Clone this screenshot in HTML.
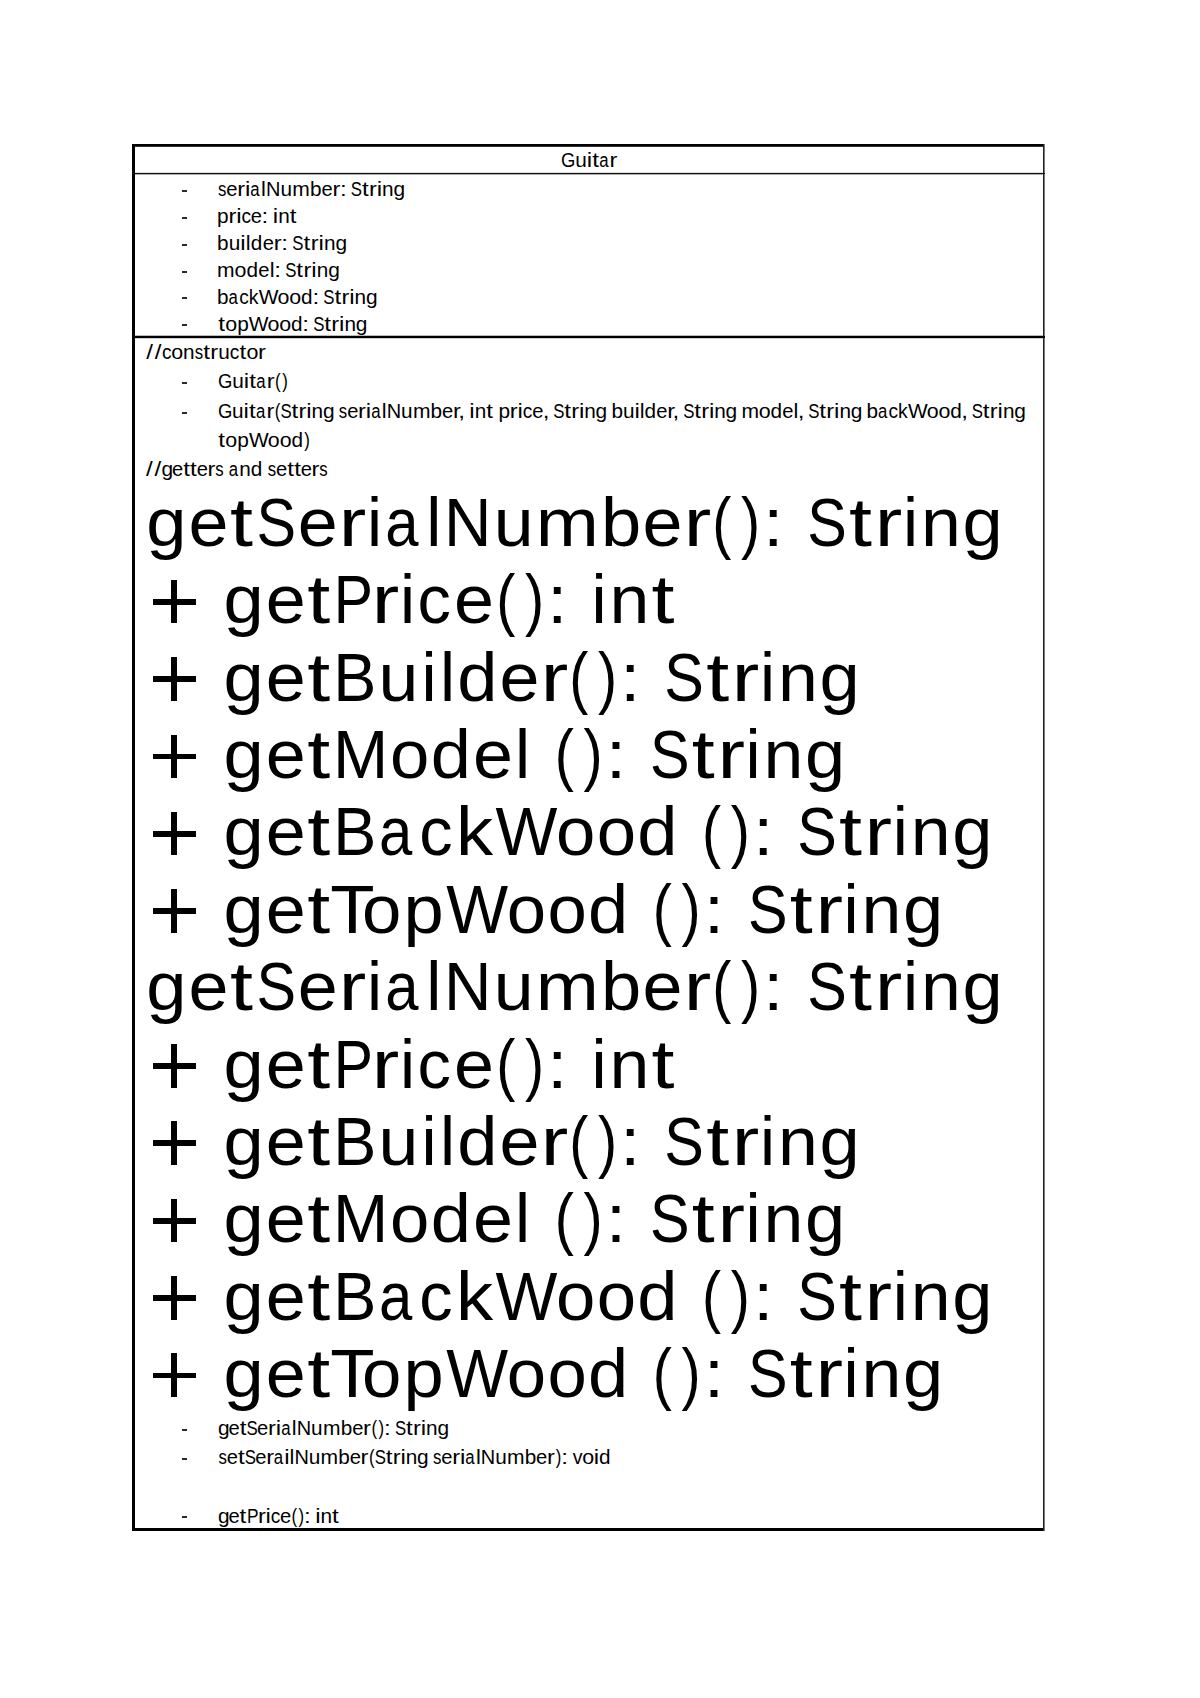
<!DOCTYPE html>
<html><head><meta charset="utf-8"><title>Guitar</title><style>
html,body{margin:0;padding:0;background:#fff;}
body{width:1200px;height:1698px;position:relative;overflow:hidden;font-family:"Liberation Sans",sans-serif;color:#000;}
.b,.r,.d{position:absolute;background:#000;}
.d{left:181.9px;width:5.6px;height:2px;background:#2a2a2a;}
svg.s{position:absolute;left:0;top:0;}
svg.s text{font-family:"Liberation Sans",sans-serif;fill:#000;font-kerning:none;white-space:pre;}
</style></head><body>
<div class="b" style="left:132px;top:144px;width:913px;height:2px"></div><div class="b" style="left:132px;top:146px;width:911px;height:1px;background:#333"></div>
<div class="b" style="left:132px;top:1528px;width:913px;height:3px"></div>
<div class="b" style="left:132px;top:144px;width:3px;height:1387px"></div>
<div class="b" style="left:1043px;top:144px;width:1px;height:1387px;background:#222"></div>
<div class="b" style="left:1044px;top:144px;width:1px;height:1387px;background:#777"></div>
<div class="b" style="left:135px;top:172px;width:908px;height:1px;background:#ddd"></div><div class="b" style="left:132px;top:173px;width:913px;height:1px;background:#111"></div><div class="b" style="left:135px;top:174px;width:908px;height:1px;background:#aaa"></div>
<div class="b" style="left:135px;top:335px;width:908px;height:1px;background:#bbb"></div><div class="b" style="left:132px;top:336px;width:913px;height:2px"></div><div class="b" style="left:135px;top:338px;width:908px;height:1px;background:#ccc"></div>

<svg class="s" width="1200" height="1698" viewBox="0 0 1200 1698"><text y="167.00" font-size="20.13"><tspan x="561.07" textLength="14.36" lengthAdjust="spacingAndGlyphs">G</tspan><tspan x="575.16" textLength="11.55" lengthAdjust="spacingAndGlyphs">u</tspan><tspan x="586.67" textLength="5.37" lengthAdjust="spacingAndGlyphs">i</tspan><tspan x="592.17" textLength="6.71" lengthAdjust="spacingAndGlyphs">t</tspan><tspan x="599.15" textLength="9.33" lengthAdjust="spacingAndGlyphs">a</tspan><tspan x="609.55" textLength="7.87" lengthAdjust="spacingAndGlyphs">r</tspan></text><text y="195.89" font-size="20.13"><tspan x="217.88" textLength="8.39" lengthAdjust="spacingAndGlyphs">s</tspan><tspan x="226.30" textLength="11.21" lengthAdjust="spacingAndGlyphs">e</tspan><tspan x="237.27" textLength="7.87" lengthAdjust="spacingAndGlyphs">r</tspan><tspan x="245.04" textLength="5.37" lengthAdjust="spacingAndGlyphs">i</tspan><tspan x="250.37" textLength="9.33" lengthAdjust="spacingAndGlyphs">a</tspan><tspan x="261.07" textLength="4.84" lengthAdjust="spacingAndGlyphs">l</tspan><tspan x="266.02" textLength="14.42" lengthAdjust="spacingAndGlyphs">N</tspan><tspan x="280.43" textLength="11.55" lengthAdjust="spacingAndGlyphs">u</tspan><tspan x="292.31" textLength="17.56" lengthAdjust="spacingAndGlyphs">m</tspan><tspan x="310.12" textLength="11.54" lengthAdjust="spacingAndGlyphs">b</tspan><tspan x="321.55" textLength="11.21" lengthAdjust="spacingAndGlyphs">e</tspan><tspan x="332.52" textLength="7.87" lengthAdjust="spacingAndGlyphs">r</tspan><tspan x="340.00" textLength="6.71" lengthAdjust="spacingAndGlyphs">:</tspan> <tspan x="350.84" textLength="11.19" lengthAdjust="spacingAndGlyphs">S</tspan><tspan x="361.91" textLength="6.71" lengthAdjust="spacingAndGlyphs">t</tspan><tspan x="368.95" textLength="7.87" lengthAdjust="spacingAndGlyphs">r</tspan><tspan x="376.72" textLength="5.37" lengthAdjust="spacingAndGlyphs">i</tspan><tspan x="382.11" textLength="11.55" lengthAdjust="spacingAndGlyphs">n</tspan><tspan x="393.48" textLength="11.62" lengthAdjust="spacingAndGlyphs">g</tspan></text><text y="222.81" font-size="20.13"><tspan x="217.06" textLength="11.58" lengthAdjust="spacingAndGlyphs">p</tspan><tspan x="228.42" textLength="7.87" lengthAdjust="spacingAndGlyphs">r</tspan><tspan x="236.21" textLength="5.37" lengthAdjust="spacingAndGlyphs">i</tspan><tspan x="241.40" textLength="9.55" lengthAdjust="spacingAndGlyphs">c</tspan><tspan x="250.86" textLength="11.21" lengthAdjust="spacingAndGlyphs">e</tspan><tspan x="261.56" textLength="6.71" lengthAdjust="spacingAndGlyphs">:</tspan> <tspan x="272.85" textLength="5.37" lengthAdjust="spacingAndGlyphs">i</tspan><tspan x="278.25" textLength="11.55" lengthAdjust="spacingAndGlyphs">n</tspan><tspan x="289.89" textLength="6.71" lengthAdjust="spacingAndGlyphs">t</tspan></text><text y="249.73" font-size="20.13"><tspan x="217.04" textLength="11.54" lengthAdjust="spacingAndGlyphs">b</tspan><tspan x="228.66" textLength="11.55" lengthAdjust="spacingAndGlyphs">u</tspan><tspan x="240.36" textLength="5.37" lengthAdjust="spacingAndGlyphs">i</tspan><tspan x="245.80" textLength="4.84" lengthAdjust="spacingAndGlyphs">l</tspan><tspan x="250.78" textLength="11.54" lengthAdjust="spacingAndGlyphs">d</tspan><tspan x="262.66" textLength="11.21" lengthAdjust="spacingAndGlyphs">e</tspan><tspan x="273.77" textLength="7.87" lengthAdjust="spacingAndGlyphs">r</tspan><tspan x="281.34" textLength="6.71" lengthAdjust="spacingAndGlyphs">:</tspan> <tspan x="292.33" textLength="11.19" lengthAdjust="spacingAndGlyphs">S</tspan><tspan x="303.53" textLength="6.71" lengthAdjust="spacingAndGlyphs">t</tspan><tspan x="310.67" textLength="7.87" lengthAdjust="spacingAndGlyphs">r</tspan><tspan x="318.54" textLength="5.37" lengthAdjust="spacingAndGlyphs">i</tspan><tspan x="323.99" textLength="11.55" lengthAdjust="spacingAndGlyphs">n</tspan><tspan x="335.50" textLength="11.62" lengthAdjust="spacingAndGlyphs">g</tspan></text><text y="276.66" font-size="20.13"><tspan x="216.99" textLength="17.56" lengthAdjust="spacingAndGlyphs">m</tspan><tspan x="234.64" textLength="11.91" lengthAdjust="spacingAndGlyphs">o</tspan><tspan x="246.50" textLength="11.54" lengthAdjust="spacingAndGlyphs">d</tspan><tspan x="258.33" textLength="11.21" lengthAdjust="spacingAndGlyphs">e</tspan><tspan x="269.68" textLength="4.84" lengthAdjust="spacingAndGlyphs">l</tspan><tspan x="274.28" textLength="6.71" lengthAdjust="spacingAndGlyphs">:</tspan> <tspan x="285.22" textLength="11.19" lengthAdjust="spacingAndGlyphs">S</tspan><tspan x="296.38" textLength="6.71" lengthAdjust="spacingAndGlyphs">t</tspan><tspan x="303.50" textLength="7.87" lengthAdjust="spacingAndGlyphs">r</tspan><tspan x="311.32" textLength="5.37" lengthAdjust="spacingAndGlyphs">i</tspan><tspan x="316.76" textLength="11.55" lengthAdjust="spacingAndGlyphs">n</tspan><tspan x="328.24" textLength="11.62" lengthAdjust="spacingAndGlyphs">g</tspan></text><text y="303.58" font-size="20.13"><tspan x="217.06" textLength="11.54" lengthAdjust="spacingAndGlyphs">b</tspan><tspan x="228.62" textLength="9.33" lengthAdjust="spacingAndGlyphs">a</tspan><tspan x="239.16" textLength="9.55" lengthAdjust="spacingAndGlyphs">c</tspan><tspan x="248.71" textLength="9.74" lengthAdjust="spacingAndGlyphs">k</tspan><tspan x="258.81" textLength="19.71" lengthAdjust="spacingAndGlyphs">W</tspan><tspan x="277.58" textLength="11.91" lengthAdjust="spacingAndGlyphs">o</tspan><tspan x="289.33" textLength="11.91" lengthAdjust="spacingAndGlyphs">o</tspan><tspan x="301.11" textLength="11.54" lengthAdjust="spacingAndGlyphs">d</tspan><tspan x="312.46" textLength="6.71" lengthAdjust="spacingAndGlyphs">:</tspan> <tspan x="323.32" textLength="11.19" lengthAdjust="spacingAndGlyphs">S</tspan><tspan x="334.40" textLength="6.71" lengthAdjust="spacingAndGlyphs">t</tspan><tspan x="341.45" textLength="7.87" lengthAdjust="spacingAndGlyphs">r</tspan><tspan x="349.23" textLength="5.37" lengthAdjust="spacingAndGlyphs">i</tspan><tspan x="354.63" textLength="11.55" lengthAdjust="spacingAndGlyphs">n</tspan><tspan x="366.02" textLength="11.62" lengthAdjust="spacingAndGlyphs">g</tspan></text><text y="330.50" font-size="20.13"><tspan x="218.30" textLength="6.71" lengthAdjust="spacingAndGlyphs">t</tspan><tspan x="225.18" textLength="11.91" lengthAdjust="spacingAndGlyphs">o</tspan><tspan x="237.19" textLength="11.58" lengthAdjust="spacingAndGlyphs">p</tspan><tspan x="248.74" textLength="19.71" lengthAdjust="spacingAndGlyphs">W</tspan><tspan x="267.49" textLength="11.91" lengthAdjust="spacingAndGlyphs">o</tspan><tspan x="279.23" textLength="11.91" lengthAdjust="spacingAndGlyphs">o</tspan><tspan x="290.99" textLength="11.54" lengthAdjust="spacingAndGlyphs">d</tspan><tspan x="302.34" textLength="6.71" lengthAdjust="spacingAndGlyphs">:</tspan> <tspan x="313.18" textLength="11.19" lengthAdjust="spacingAndGlyphs">S</tspan><tspan x="324.25" textLength="6.71" lengthAdjust="spacingAndGlyphs">t</tspan><tspan x="331.29" textLength="7.87" lengthAdjust="spacingAndGlyphs">r</tspan><tspan x="339.06" textLength="5.37" lengthAdjust="spacingAndGlyphs">i</tspan><tspan x="344.45" textLength="11.55" lengthAdjust="spacingAndGlyphs">n</tspan><tspan x="355.83" textLength="11.62" lengthAdjust="spacingAndGlyphs">g</tspan></text><text y="358.50" font-size="20.13"><tspan x="146.26" textLength="6.71" lengthAdjust="spacingAndGlyphs">/</tspan><tspan x="154.82" textLength="6.71" lengthAdjust="spacingAndGlyphs">/</tspan><tspan x="162.01" textLength="9.55" lengthAdjust="spacingAndGlyphs">c</tspan><tspan x="171.18" textLength="11.91" lengthAdjust="spacingAndGlyphs">o</tspan><tspan x="183.12" textLength="11.55" lengthAdjust="spacingAndGlyphs">n</tspan><tspan x="194.86" textLength="8.39" lengthAdjust="spacingAndGlyphs">s</tspan><tspan x="203.33" textLength="6.71" lengthAdjust="spacingAndGlyphs">t</tspan><tspan x="210.35" textLength="7.87" lengthAdjust="spacingAndGlyphs">r</tspan><tspan x="218.24" textLength="11.55" lengthAdjust="spacingAndGlyphs">u</tspan><tspan x="229.84" textLength="9.55" lengthAdjust="spacingAndGlyphs">c</tspan><tspan x="239.54" textLength="6.71" lengthAdjust="spacingAndGlyphs">t</tspan><tspan x="246.40" textLength="11.91" lengthAdjust="spacingAndGlyphs">o</tspan><tspan x="258.05" textLength="7.87" lengthAdjust="spacingAndGlyphs">r</tspan></text><text y="388.09" font-size="20.13"><tspan x="218.07" textLength="14.36" lengthAdjust="spacingAndGlyphs">G</tspan><tspan x="232.20" textLength="11.55" lengthAdjust="spacingAndGlyphs">u</tspan><tspan x="243.76" textLength="5.37" lengthAdjust="spacingAndGlyphs">i</tspan><tspan x="249.27" textLength="6.71" lengthAdjust="spacingAndGlyphs">t</tspan><tspan x="256.28" textLength="9.33" lengthAdjust="spacingAndGlyphs">a</tspan><tspan x="266.72" textLength="7.87" lengthAdjust="spacingAndGlyphs">r</tspan><tspan x="275.01" textLength="5.59" lengthAdjust="spacingAndGlyphs">(</tspan><tspan x="282.17" textLength="5.59" lengthAdjust="spacingAndGlyphs">)</tspan></text><text y="418.19" font-size="20.13"><tspan x="218.08" textLength="14.36" lengthAdjust="spacingAndGlyphs">G</tspan><tspan x="232.14" textLength="11.55" lengthAdjust="spacingAndGlyphs">u</tspan><tspan x="243.64" textLength="5.37" lengthAdjust="spacingAndGlyphs">i</tspan><tspan x="249.13" textLength="6.71" lengthAdjust="spacingAndGlyphs">t</tspan><tspan x="256.10" textLength="9.33" lengthAdjust="spacingAndGlyphs">a</tspan><tspan x="266.49" textLength="7.87" lengthAdjust="spacingAndGlyphs">r</tspan><tspan x="274.75" textLength="5.59" lengthAdjust="spacingAndGlyphs">(</tspan><tspan x="280.51" textLength="11.19" lengthAdjust="spacingAndGlyphs">S</tspan><tspan x="291.52" textLength="6.71" lengthAdjust="spacingAndGlyphs">t</tspan><tspan x="298.54" textLength="7.87" lengthAdjust="spacingAndGlyphs">r</tspan><tspan x="306.25" textLength="5.37" lengthAdjust="spacingAndGlyphs">i</tspan><tspan x="311.62" textLength="11.55" lengthAdjust="spacingAndGlyphs">n</tspan><tspan x="322.94" textLength="11.62" lengthAdjust="spacingAndGlyphs">g</tspan> <tspan x="338.80" textLength="8.39" lengthAdjust="spacingAndGlyphs">s</tspan><tspan x="347.18" textLength="11.21" lengthAdjust="spacingAndGlyphs">e</tspan><tspan x="358.10" textLength="7.87" lengthAdjust="spacingAndGlyphs">r</tspan><tspan x="365.84" textLength="5.37" lengthAdjust="spacingAndGlyphs">i</tspan><tspan x="371.14" textLength="9.33" lengthAdjust="spacingAndGlyphs">a</tspan><tspan x="381.81" textLength="4.84" lengthAdjust="spacingAndGlyphs">l</tspan><tspan x="386.73" textLength="14.42" lengthAdjust="spacingAndGlyphs">N</tspan><tspan x="401.08" textLength="11.55" lengthAdjust="spacingAndGlyphs">u</tspan><tspan x="412.90" textLength="17.56" lengthAdjust="spacingAndGlyphs">m</tspan><tspan x="430.64" textLength="11.54" lengthAdjust="spacingAndGlyphs">b</tspan><tspan x="442.00" textLength="11.21" lengthAdjust="spacingAndGlyphs">e</tspan><tspan x="452.92" textLength="7.87" lengthAdjust="spacingAndGlyphs">r</tspan><tspan x="458.35" textLength="6.71" lengthAdjust="spacingAndGlyphs">,</tspan> <tspan x="469.28" textLength="5.37" lengthAdjust="spacingAndGlyphs">i</tspan><tspan x="474.65" textLength="11.55" lengthAdjust="spacingAndGlyphs">n</tspan><tspan x="486.22" textLength="6.71" lengthAdjust="spacingAndGlyphs">t</tspan> <tspan x="498.57" textLength="11.58" lengthAdjust="spacingAndGlyphs">p</tspan><tspan x="509.88" textLength="7.87" lengthAdjust="spacingAndGlyphs">r</tspan><tspan x="517.61" textLength="5.37" lengthAdjust="spacingAndGlyphs">i</tspan><tspan x="522.77" textLength="9.55" lengthAdjust="spacingAndGlyphs">c</tspan><tspan x="532.15" textLength="11.21" lengthAdjust="spacingAndGlyphs">e</tspan><tspan x="542.68" textLength="6.71" lengthAdjust="spacingAndGlyphs">,</tspan> <tspan x="553.19" textLength="11.19" lengthAdjust="spacingAndGlyphs">S</tspan><tspan x="564.21" textLength="6.71" lengthAdjust="spacingAndGlyphs">t</tspan><tspan x="571.22" textLength="7.87" lengthAdjust="spacingAndGlyphs">r</tspan><tspan x="578.95" textLength="5.37" lengthAdjust="spacingAndGlyphs">i</tspan><tspan x="584.32" textLength="11.55" lengthAdjust="spacingAndGlyphs">n</tspan><tspan x="595.64" textLength="11.62" lengthAdjust="spacingAndGlyphs">g</tspan> <tspan x="611.49" textLength="11.54" lengthAdjust="spacingAndGlyphs">b</tspan><tspan x="622.90" textLength="11.55" lengthAdjust="spacingAndGlyphs">u</tspan><tspan x="634.40" textLength="5.37" lengthAdjust="spacingAndGlyphs">i</tspan><tspan x="639.75" textLength="4.84" lengthAdjust="spacingAndGlyphs">l</tspan><tspan x="644.64" textLength="11.54" lengthAdjust="spacingAndGlyphs">d</tspan><tspan x="656.31" textLength="11.21" lengthAdjust="spacingAndGlyphs">e</tspan><tspan x="667.23" textLength="7.87" lengthAdjust="spacingAndGlyphs">r</tspan><tspan x="672.64" textLength="6.71" lengthAdjust="spacingAndGlyphs">,</tspan> <tspan x="683.17" textLength="11.19" lengthAdjust="spacingAndGlyphs">S</tspan><tspan x="694.19" textLength="6.71" lengthAdjust="spacingAndGlyphs">t</tspan><tspan x="701.19" textLength="7.87" lengthAdjust="spacingAndGlyphs">r</tspan><tspan x="708.92" textLength="5.37" lengthAdjust="spacingAndGlyphs">i</tspan><tspan x="714.29" textLength="11.55" lengthAdjust="spacingAndGlyphs">n</tspan><tspan x="725.60" textLength="11.62" lengthAdjust="spacingAndGlyphs">g</tspan> <tspan x="741.42" textLength="17.56" lengthAdjust="spacingAndGlyphs">m</tspan><tspan x="758.84" textLength="11.91" lengthAdjust="spacingAndGlyphs">o</tspan><tspan x="770.54" textLength="11.54" lengthAdjust="spacingAndGlyphs">d</tspan><tspan x="782.21" textLength="11.21" lengthAdjust="spacingAndGlyphs">e</tspan><tspan x="793.41" textLength="4.84" lengthAdjust="spacingAndGlyphs">l</tspan><tspan x="797.81" textLength="6.71" lengthAdjust="spacingAndGlyphs">,</tspan> <tspan x="808.33" textLength="11.19" lengthAdjust="spacingAndGlyphs">S</tspan><tspan x="819.34" textLength="6.71" lengthAdjust="spacingAndGlyphs">t</tspan><tspan x="826.36" textLength="7.87" lengthAdjust="spacingAndGlyphs">r</tspan><tspan x="834.08" textLength="5.37" lengthAdjust="spacingAndGlyphs">i</tspan><tspan x="839.44" textLength="11.55" lengthAdjust="spacingAndGlyphs">n</tspan><tspan x="850.76" textLength="11.62" lengthAdjust="spacingAndGlyphs">g</tspan> <tspan x="866.61" textLength="11.54" lengthAdjust="spacingAndGlyphs">b</tspan><tspan x="878.12" textLength="9.33" lengthAdjust="spacingAndGlyphs">a</tspan><tspan x="888.58" textLength="9.55" lengthAdjust="spacingAndGlyphs">c</tspan><tspan x="898.09" textLength="9.74" lengthAdjust="spacingAndGlyphs">k</tspan><tspan x="908.13" textLength="19.71" lengthAdjust="spacingAndGlyphs">W</tspan><tspan x="926.79" textLength="11.91" lengthAdjust="spacingAndGlyphs">o</tspan><tspan x="938.46" textLength="11.91" lengthAdjust="spacingAndGlyphs">o</tspan><tspan x="950.17" textLength="11.54" lengthAdjust="spacingAndGlyphs">d</tspan><tspan x="961.32" textLength="6.71" lengthAdjust="spacingAndGlyphs">,</tspan> <tspan x="971.85" textLength="11.19" lengthAdjust="spacingAndGlyphs">S</tspan><tspan x="982.87" textLength="6.71" lengthAdjust="spacingAndGlyphs">t</tspan><tspan x="989.87" textLength="7.87" lengthAdjust="spacingAndGlyphs">r</tspan><tspan x="997.60" textLength="5.37" lengthAdjust="spacingAndGlyphs">i</tspan><tspan x="1002.97" textLength="11.55" lengthAdjust="spacingAndGlyphs">n</tspan><tspan x="1014.28" textLength="11.62" lengthAdjust="spacingAndGlyphs">g</tspan></text><text y="447.30" font-size="20.13"><tspan x="218.30" textLength="6.71" lengthAdjust="spacingAndGlyphs">t</tspan><tspan x="225.23" textLength="11.91" lengthAdjust="spacingAndGlyphs">o</tspan><tspan x="237.32" textLength="11.58" lengthAdjust="spacingAndGlyphs">p</tspan><tspan x="248.95" textLength="19.71" lengthAdjust="spacingAndGlyphs">W</tspan><tspan x="267.83" textLength="11.91" lengthAdjust="spacingAndGlyphs">o</tspan><tspan x="279.65" textLength="11.91" lengthAdjust="spacingAndGlyphs">o</tspan><tspan x="291.49" textLength="11.54" lengthAdjust="spacingAndGlyphs">d</tspan><tspan x="304.14" textLength="5.59" lengthAdjust="spacingAndGlyphs">)</tspan></text><text y="475.59" font-size="20.13"><tspan x="146.06" textLength="6.71" lengthAdjust="spacingAndGlyphs">/</tspan><tspan x="154.59" textLength="6.71" lengthAdjust="spacingAndGlyphs">/</tspan><tspan x="161.64" textLength="11.62" lengthAdjust="spacingAndGlyphs">g</tspan><tspan x="172.00" textLength="11.21" lengthAdjust="spacingAndGlyphs">e</tspan><tspan x="183.18" textLength="6.71" lengthAdjust="spacingAndGlyphs">t</tspan><tspan x="190.07" textLength="6.71" lengthAdjust="spacingAndGlyphs">t</tspan><tspan x="196.66" textLength="11.21" lengthAdjust="spacingAndGlyphs">e</tspan><tspan x="207.56" textLength="7.87" lengthAdjust="spacingAndGlyphs">r</tspan><tspan x="215.26" textLength="8.39" lengthAdjust="spacingAndGlyphs">s</tspan> <tspan x="228.76" textLength="9.33" lengthAdjust="spacingAndGlyphs">a</tspan><tspan x="239.39" textLength="11.55" lengthAdjust="spacingAndGlyphs">n</tspan><tspan x="250.80" textLength="11.54" lengthAdjust="spacingAndGlyphs">d</tspan> <tspan x="267.72" textLength="8.39" lengthAdjust="spacingAndGlyphs">s</tspan><tspan x="276.08" textLength="11.21" lengthAdjust="spacingAndGlyphs">e</tspan><tspan x="287.26" textLength="6.71" lengthAdjust="spacingAndGlyphs">t</tspan><tspan x="294.16" textLength="6.71" lengthAdjust="spacingAndGlyphs">t</tspan><tspan x="300.74" textLength="11.21" lengthAdjust="spacingAndGlyphs">e</tspan><tspan x="311.63" textLength="7.87" lengthAdjust="spacingAndGlyphs">r</tspan><tspan x="319.33" textLength="8.39" lengthAdjust="spacingAndGlyphs">s</tspan></text><text y="1435.00" font-size="20.13"><tspan x="218.12" textLength="11.62" lengthAdjust="spacingAndGlyphs">g</tspan><tspan x="228.52" textLength="11.21" lengthAdjust="spacingAndGlyphs">e</tspan><tspan x="239.78" textLength="6.71" lengthAdjust="spacingAndGlyphs">t</tspan><tspan x="246.38" textLength="11.19" lengthAdjust="spacingAndGlyphs">S</tspan><tspan x="257.12" textLength="11.21" lengthAdjust="spacingAndGlyphs">e</tspan><tspan x="268.07" textLength="7.87" lengthAdjust="spacingAndGlyphs">r</tspan><tspan x="275.82" textLength="5.37" lengthAdjust="spacingAndGlyphs">i</tspan><tspan x="281.14" textLength="9.33" lengthAdjust="spacingAndGlyphs">a</tspan><tspan x="291.82" textLength="4.84" lengthAdjust="spacingAndGlyphs">l</tspan><tspan x="296.76" textLength="14.42" lengthAdjust="spacingAndGlyphs">N</tspan><tspan x="311.14" textLength="11.55" lengthAdjust="spacingAndGlyphs">u</tspan><tspan x="323.01" textLength="17.56" lengthAdjust="spacingAndGlyphs">m</tspan><tspan x="340.78" textLength="11.54" lengthAdjust="spacingAndGlyphs">b</tspan><tspan x="352.19" textLength="11.21" lengthAdjust="spacingAndGlyphs">e</tspan><tspan x="363.14" textLength="7.87" lengthAdjust="spacingAndGlyphs">r</tspan><tspan x="371.43" textLength="5.59" lengthAdjust="spacingAndGlyphs">(</tspan><tspan x="378.56" textLength="5.59" lengthAdjust="spacingAndGlyphs">)</tspan><tspan x="384.07" textLength="6.71" lengthAdjust="spacingAndGlyphs">:</tspan> <tspan x="394.89" textLength="11.19" lengthAdjust="spacingAndGlyphs">S</tspan><tspan x="405.94" textLength="6.71" lengthAdjust="spacingAndGlyphs">t</tspan><tspan x="412.96" textLength="7.87" lengthAdjust="spacingAndGlyphs">r</tspan><tspan x="420.72" textLength="5.37" lengthAdjust="spacingAndGlyphs">i</tspan><tspan x="426.10" textLength="11.55" lengthAdjust="spacingAndGlyphs">n</tspan><tspan x="437.45" textLength="11.62" lengthAdjust="spacingAndGlyphs">g</tspan></text><text y="1464.00" font-size="20.13"><tspan x="218.48" textLength="8.39" lengthAdjust="spacingAndGlyphs">s</tspan><tspan x="226.86" textLength="11.21" lengthAdjust="spacingAndGlyphs">e</tspan><tspan x="238.07" textLength="6.71" lengthAdjust="spacingAndGlyphs">t</tspan><tspan x="244.66" textLength="11.19" lengthAdjust="spacingAndGlyphs">S</tspan><tspan x="255.36" textLength="11.21" lengthAdjust="spacingAndGlyphs">e</tspan><tspan x="266.28" textLength="7.87" lengthAdjust="spacingAndGlyphs">r</tspan><tspan x="273.78" textLength="9.33" lengthAdjust="spacingAndGlyphs">a</tspan><tspan x="284.16" textLength="5.37" lengthAdjust="spacingAndGlyphs">i</tspan><tspan x="289.51" textLength="4.84" lengthAdjust="spacingAndGlyphs">l</tspan><tspan x="294.44" textLength="14.42" lengthAdjust="spacingAndGlyphs">N</tspan><tspan x="308.78" textLength="11.55" lengthAdjust="spacingAndGlyphs">u</tspan><tspan x="320.61" textLength="17.56" lengthAdjust="spacingAndGlyphs">m</tspan><tspan x="338.33" textLength="11.54" lengthAdjust="spacingAndGlyphs">b</tspan><tspan x="349.70" textLength="11.21" lengthAdjust="spacingAndGlyphs">e</tspan><tspan x="360.62" textLength="7.87" lengthAdjust="spacingAndGlyphs">r</tspan><tspan x="368.89" textLength="5.59" lengthAdjust="spacingAndGlyphs">(</tspan><tspan x="374.64" textLength="11.19" lengthAdjust="spacingAndGlyphs">S</tspan><tspan x="385.66" textLength="6.71" lengthAdjust="spacingAndGlyphs">t</tspan><tspan x="392.66" textLength="7.87" lengthAdjust="spacingAndGlyphs">r</tspan><tspan x="400.40" textLength="5.37" lengthAdjust="spacingAndGlyphs">i</tspan><tspan x="405.76" textLength="11.55" lengthAdjust="spacingAndGlyphs">n</tspan><tspan x="417.08" textLength="11.62" lengthAdjust="spacingAndGlyphs">g</tspan> <tspan x="432.92" textLength="8.39" lengthAdjust="spacingAndGlyphs">s</tspan><tspan x="441.32" textLength="11.21" lengthAdjust="spacingAndGlyphs">e</tspan><tspan x="452.24" textLength="7.87" lengthAdjust="spacingAndGlyphs">r</tspan><tspan x="459.97" textLength="5.37" lengthAdjust="spacingAndGlyphs">i</tspan><tspan x="465.27" textLength="9.33" lengthAdjust="spacingAndGlyphs">a</tspan><tspan x="475.92" textLength="4.84" lengthAdjust="spacingAndGlyphs">l</tspan><tspan x="480.85" textLength="14.42" lengthAdjust="spacingAndGlyphs">N</tspan><tspan x="495.19" textLength="11.55" lengthAdjust="spacingAndGlyphs">u</tspan><tspan x="507.02" textLength="17.56" lengthAdjust="spacingAndGlyphs">m</tspan><tspan x="524.74" textLength="11.54" lengthAdjust="spacingAndGlyphs">b</tspan><tspan x="536.12" textLength="11.21" lengthAdjust="spacingAndGlyphs">e</tspan><tspan x="547.03" textLength="7.87" lengthAdjust="spacingAndGlyphs">r</tspan><tspan x="555.70" textLength="5.59" lengthAdjust="spacingAndGlyphs">)</tspan><tspan x="561.20" textLength="6.71" lengthAdjust="spacingAndGlyphs">:</tspan> <tspan x="572.69" textLength="9.78" lengthAdjust="spacingAndGlyphs">v</tspan><tspan x="582.27" textLength="11.91" lengthAdjust="spacingAndGlyphs">o</tspan><tspan x="593.89" textLength="5.37" lengthAdjust="spacingAndGlyphs">i</tspan><tspan x="599.05" textLength="11.54" lengthAdjust="spacingAndGlyphs">d</tspan></text><text y="1522.50" font-size="20.13"><tspan x="218.13" textLength="11.62" lengthAdjust="spacingAndGlyphs">g</tspan><tspan x="228.44" textLength="11.21" lengthAdjust="spacingAndGlyphs">e</tspan><tspan x="239.59" textLength="6.71" lengthAdjust="spacingAndGlyphs">t</tspan><tspan x="246.88" textLength="11.54" lengthAdjust="spacingAndGlyphs">P</tspan><tspan x="257.92" textLength="7.87" lengthAdjust="spacingAndGlyphs">r</tspan><tspan x="265.61" textLength="5.37" lengthAdjust="spacingAndGlyphs">i</tspan><tspan x="270.74" textLength="9.55" lengthAdjust="spacingAndGlyphs">c</tspan><tspan x="280.08" textLength="11.21" lengthAdjust="spacingAndGlyphs">e</tspan><tspan x="291.47" textLength="5.59" lengthAdjust="spacingAndGlyphs">(</tspan><tspan x="298.54" textLength="5.59" lengthAdjust="spacingAndGlyphs">)</tspan><tspan x="304.00" textLength="6.71" lengthAdjust="spacingAndGlyphs">:</tspan> <tspan x="315.15" textLength="5.37" lengthAdjust="spacingAndGlyphs">i</tspan><tspan x="320.48" textLength="11.55" lengthAdjust="spacingAndGlyphs">n</tspan><tspan x="331.98" textLength="6.71" lengthAdjust="spacingAndGlyphs">t</tspan></text><text y="545.99" font-size="68.84"><tspan x="146.26" textLength="40.20" lengthAdjust="spacingAndGlyphs">g</tspan><tspan x="188.45" textLength="39.95" lengthAdjust="spacingAndGlyphs">e</tspan><tspan x="230.09" textLength="22.95" lengthAdjust="spacingAndGlyphs">t</tspan><tspan x="256.50" textLength="39.54" lengthAdjust="spacingAndGlyphs">S</tspan><tspan x="297.65" textLength="39.95" lengthAdjust="spacingAndGlyphs">e</tspan><tspan x="338.82" textLength="27.51" lengthAdjust="spacingAndGlyphs">r</tspan><tspan x="367.00" textLength="15.10" lengthAdjust="spacingAndGlyphs">i</tspan><tspan x="385.20" textLength="33.26" lengthAdjust="spacingAndGlyphs">a</tspan><tspan x="426.20" textLength="15.10" lengthAdjust="spacingAndGlyphs">l</tspan><tspan x="444.12" textLength="47.44" lengthAdjust="spacingAndGlyphs">N</tspan><tspan x="493.73" textLength="39.87" lengthAdjust="spacingAndGlyphs">u</tspan><tspan x="535.88" textLength="63.12" lengthAdjust="spacingAndGlyphs">m</tspan><tspan x="601.03" textLength="40.24" lengthAdjust="spacingAndGlyphs">b</tspan><tspan x="642.48" textLength="39.95" lengthAdjust="spacingAndGlyphs">e</tspan><tspan x="683.66" textLength="27.51" lengthAdjust="spacingAndGlyphs">r</tspan><tspan x="712.13" textLength="19.10" lengthAdjust="spacingAndGlyphs">(</tspan><tspan x="740.90" textLength="19.10" lengthAdjust="spacingAndGlyphs">)</tspan><tspan x="763.24" textLength="19.99" lengthAdjust="spacingAndGlyphs">:</tspan> <tspan x="807.24" textLength="39.54" lengthAdjust="spacingAndGlyphs">S</tspan><tspan x="849.10" textLength="22.95" lengthAdjust="spacingAndGlyphs">t</tspan><tspan x="874.72" textLength="27.51" lengthAdjust="spacingAndGlyphs">r</tspan><tspan x="902.89" textLength="15.10" lengthAdjust="spacingAndGlyphs">i</tspan><tspan x="920.93" textLength="39.87" lengthAdjust="spacingAndGlyphs">n</tspan><tspan x="962.43" textLength="40.20" lengthAdjust="spacingAndGlyphs">g</tspan></text><text y="623.35" font-size="68.84"><tspan x="223.46" textLength="40.20" lengthAdjust="spacingAndGlyphs">g</tspan><tspan x="265.65" textLength="39.95" lengthAdjust="spacingAndGlyphs">e</tspan><tspan x="307.29" textLength="22.95" lengthAdjust="spacingAndGlyphs">t</tspan><tspan x="333.72" textLength="39.23" lengthAdjust="spacingAndGlyphs">P</tspan><tspan x="371.83" textLength="27.51" lengthAdjust="spacingAndGlyphs">r</tspan><tspan x="400.02" textLength="15.10" lengthAdjust="spacingAndGlyphs">i</tspan><tspan x="417.60" textLength="33.36" lengthAdjust="spacingAndGlyphs">c</tspan><tspan x="453.95" textLength="39.95" lengthAdjust="spacingAndGlyphs">e</tspan><tspan x="496.26" textLength="19.10" lengthAdjust="spacingAndGlyphs">(</tspan><tspan x="525.02" textLength="19.10" lengthAdjust="spacingAndGlyphs">)</tspan><tspan x="547.35" textLength="19.99" lengthAdjust="spacingAndGlyphs">:</tspan> <tspan x="591.39" textLength="15.10" lengthAdjust="spacingAndGlyphs">i</tspan><tspan x="609.43" textLength="39.87" lengthAdjust="spacingAndGlyphs">n</tspan><tspan x="651.63" textLength="22.95" lengthAdjust="spacingAndGlyphs">t</tspan></text><text y="700.71" font-size="68.84"><tspan x="223.46" textLength="40.20" lengthAdjust="spacingAndGlyphs">g</tspan><tspan x="265.65" textLength="39.95" lengthAdjust="spacingAndGlyphs">e</tspan><tspan x="307.29" textLength="22.95" lengthAdjust="spacingAndGlyphs">t</tspan><tspan x="333.24" textLength="43.09" lengthAdjust="spacingAndGlyphs">B</tspan><tspan x="378.63" textLength="39.87" lengthAdjust="spacingAndGlyphs">u</tspan><tspan x="421.50" textLength="15.10" lengthAdjust="spacingAndGlyphs">i</tspan><tspan x="439.95" textLength="15.10" lengthAdjust="spacingAndGlyphs">l</tspan><tspan x="457.37" textLength="40.20" lengthAdjust="spacingAndGlyphs">d</tspan><tspan x="499.57" textLength="39.95" lengthAdjust="spacingAndGlyphs">e</tspan><tspan x="540.74" textLength="27.51" lengthAdjust="spacingAndGlyphs">r</tspan><tspan x="569.21" textLength="19.10" lengthAdjust="spacingAndGlyphs">(</tspan><tspan x="597.99" textLength="19.10" lengthAdjust="spacingAndGlyphs">)</tspan><tspan x="620.32" textLength="19.99" lengthAdjust="spacingAndGlyphs">:</tspan> <tspan x="664.33" textLength="39.54" lengthAdjust="spacingAndGlyphs">S</tspan><tspan x="706.18" textLength="22.95" lengthAdjust="spacingAndGlyphs">t</tspan><tspan x="731.80" textLength="27.51" lengthAdjust="spacingAndGlyphs">r</tspan><tspan x="759.99" textLength="15.10" lengthAdjust="spacingAndGlyphs">i</tspan><tspan x="778.01" textLength="39.87" lengthAdjust="spacingAndGlyphs">n</tspan><tspan x="819.52" textLength="40.20" lengthAdjust="spacingAndGlyphs">g</tspan></text><text y="778.07" font-size="68.84"><tspan x="223.46" textLength="40.20" lengthAdjust="spacingAndGlyphs">g</tspan><tspan x="265.65" textLength="39.95" lengthAdjust="spacingAndGlyphs">e</tspan><tspan x="307.29" textLength="22.95" lengthAdjust="spacingAndGlyphs">t</tspan><tspan x="333.10" textLength="55.23" lengthAdjust="spacingAndGlyphs">M</tspan><tspan x="390.09" textLength="39.32" lengthAdjust="spacingAndGlyphs">o</tspan><tspan x="430.71" textLength="40.20" lengthAdjust="spacingAndGlyphs">d</tspan><tspan x="472.91" textLength="39.95" lengthAdjust="spacingAndGlyphs">e</tspan><tspan x="514.89" textLength="15.10" lengthAdjust="spacingAndGlyphs">l</tspan> <tspan x="554.82" textLength="19.10" lengthAdjust="spacingAndGlyphs">(</tspan><tspan x="583.60" textLength="19.10" lengthAdjust="spacingAndGlyphs">)</tspan><tspan x="605.93" textLength="19.99" lengthAdjust="spacingAndGlyphs">:</tspan> <tspan x="649.94" textLength="39.54" lengthAdjust="spacingAndGlyphs">S</tspan><tspan x="691.81" textLength="22.95" lengthAdjust="spacingAndGlyphs">t</tspan><tspan x="717.41" textLength="27.51" lengthAdjust="spacingAndGlyphs">r</tspan><tspan x="745.59" textLength="15.10" lengthAdjust="spacingAndGlyphs">i</tspan><tspan x="763.64" textLength="39.87" lengthAdjust="spacingAndGlyphs">n</tspan><tspan x="805.13" textLength="40.20" lengthAdjust="spacingAndGlyphs">g</tspan></text><text y="855.43" font-size="68.84"><tspan x="223.46" textLength="40.20" lengthAdjust="spacingAndGlyphs">g</tspan><tspan x="265.65" textLength="39.95" lengthAdjust="spacingAndGlyphs">e</tspan><tspan x="307.29" textLength="22.95" lengthAdjust="spacingAndGlyphs">t</tspan><tspan x="333.24" textLength="43.09" lengthAdjust="spacingAndGlyphs">B</tspan><tspan x="379.09" textLength="33.26" lengthAdjust="spacingAndGlyphs">a</tspan><tspan x="419.23" textLength="33.36" lengthAdjust="spacingAndGlyphs">c</tspan><tspan x="455.98" textLength="37.18" lengthAdjust="spacingAndGlyphs">k</tspan><tspan x="495.39" textLength="61.88" lengthAdjust="spacingAndGlyphs">W</tspan><tspan x="556.03" textLength="39.32" lengthAdjust="spacingAndGlyphs">o</tspan><tspan x="596.70" textLength="39.32" lengthAdjust="spacingAndGlyphs">o</tspan><tspan x="637.32" textLength="40.20" lengthAdjust="spacingAndGlyphs">d</tspan> <tspan x="702.05" textLength="19.10" lengthAdjust="spacingAndGlyphs">(</tspan><tspan x="730.82" textLength="19.10" lengthAdjust="spacingAndGlyphs">)</tspan><tspan x="753.16" textLength="19.99" lengthAdjust="spacingAndGlyphs">:</tspan> <tspan x="797.16" textLength="39.54" lengthAdjust="spacingAndGlyphs">S</tspan><tspan x="839.02" textLength="22.95" lengthAdjust="spacingAndGlyphs">t</tspan><tspan x="864.64" textLength="27.51" lengthAdjust="spacingAndGlyphs">r</tspan><tspan x="892.81" textLength="15.10" lengthAdjust="spacingAndGlyphs">i</tspan><tspan x="910.86" textLength="39.87" lengthAdjust="spacingAndGlyphs">n</tspan><tspan x="952.35" textLength="40.20" lengthAdjust="spacingAndGlyphs">g</tspan></text><text y="932.79" font-size="68.84"><tspan x="223.46" textLength="40.20" lengthAdjust="spacingAndGlyphs">g</tspan><tspan x="265.65" textLength="39.95" lengthAdjust="spacingAndGlyphs">e</tspan><tspan x="307.29" textLength="22.95" lengthAdjust="spacingAndGlyphs">t</tspan><tspan x="330.19" textLength="44.30" lengthAdjust="spacingAndGlyphs">T</tspan><tspan x="362.04" textLength="39.32" lengthAdjust="spacingAndGlyphs">o</tspan><tspan x="403.41" textLength="40.24" lengthAdjust="spacingAndGlyphs">p</tspan><tspan x="446.15" textLength="61.88" lengthAdjust="spacingAndGlyphs">W</tspan><tspan x="506.79" textLength="39.32" lengthAdjust="spacingAndGlyphs">o</tspan><tspan x="547.48" textLength="39.32" lengthAdjust="spacingAndGlyphs">o</tspan><tspan x="588.10" textLength="40.20" lengthAdjust="spacingAndGlyphs">d</tspan> <tspan x="652.82" textLength="19.10" lengthAdjust="spacingAndGlyphs">(</tspan><tspan x="681.60" textLength="19.10" lengthAdjust="spacingAndGlyphs">)</tspan><tspan x="703.93" textLength="19.99" lengthAdjust="spacingAndGlyphs">:</tspan> <tspan x="747.94" textLength="39.54" lengthAdjust="spacingAndGlyphs">S</tspan><tspan x="789.79" textLength="22.95" lengthAdjust="spacingAndGlyphs">t</tspan><tspan x="815.41" textLength="27.51" lengthAdjust="spacingAndGlyphs">r</tspan><tspan x="843.59" textLength="15.10" lengthAdjust="spacingAndGlyphs">i</tspan><tspan x="861.62" textLength="39.87" lengthAdjust="spacingAndGlyphs">n</tspan><tspan x="903.13" textLength="40.20" lengthAdjust="spacingAndGlyphs">g</tspan></text><text y="1010.15" font-size="68.84"><tspan x="146.26" textLength="40.20" lengthAdjust="spacingAndGlyphs">g</tspan><tspan x="188.45" textLength="39.95" lengthAdjust="spacingAndGlyphs">e</tspan><tspan x="230.09" textLength="22.95" lengthAdjust="spacingAndGlyphs">t</tspan><tspan x="256.50" textLength="39.54" lengthAdjust="spacingAndGlyphs">S</tspan><tspan x="297.65" textLength="39.95" lengthAdjust="spacingAndGlyphs">e</tspan><tspan x="338.82" textLength="27.51" lengthAdjust="spacingAndGlyphs">r</tspan><tspan x="367.00" textLength="15.10" lengthAdjust="spacingAndGlyphs">i</tspan><tspan x="385.20" textLength="33.26" lengthAdjust="spacingAndGlyphs">a</tspan><tspan x="426.20" textLength="15.10" lengthAdjust="spacingAndGlyphs">l</tspan><tspan x="444.12" textLength="47.44" lengthAdjust="spacingAndGlyphs">N</tspan><tspan x="493.73" textLength="39.87" lengthAdjust="spacingAndGlyphs">u</tspan><tspan x="535.88" textLength="63.12" lengthAdjust="spacingAndGlyphs">m</tspan><tspan x="601.03" textLength="40.24" lengthAdjust="spacingAndGlyphs">b</tspan><tspan x="642.48" textLength="39.95" lengthAdjust="spacingAndGlyphs">e</tspan><tspan x="683.66" textLength="27.51" lengthAdjust="spacingAndGlyphs">r</tspan><tspan x="712.13" textLength="19.10" lengthAdjust="spacingAndGlyphs">(</tspan><tspan x="740.90" textLength="19.10" lengthAdjust="spacingAndGlyphs">)</tspan><tspan x="763.24" textLength="19.99" lengthAdjust="spacingAndGlyphs">:</tspan> <tspan x="807.24" textLength="39.54" lengthAdjust="spacingAndGlyphs">S</tspan><tspan x="849.10" textLength="22.95" lengthAdjust="spacingAndGlyphs">t</tspan><tspan x="874.72" textLength="27.51" lengthAdjust="spacingAndGlyphs">r</tspan><tspan x="902.89" textLength="15.10" lengthAdjust="spacingAndGlyphs">i</tspan><tspan x="920.93" textLength="39.87" lengthAdjust="spacingAndGlyphs">n</tspan><tspan x="962.43" textLength="40.20" lengthAdjust="spacingAndGlyphs">g</tspan></text><text y="1087.51" font-size="68.84"><tspan x="223.46" textLength="40.20" lengthAdjust="spacingAndGlyphs">g</tspan><tspan x="265.65" textLength="39.95" lengthAdjust="spacingAndGlyphs">e</tspan><tspan x="307.29" textLength="22.95" lengthAdjust="spacingAndGlyphs">t</tspan><tspan x="333.72" textLength="39.23" lengthAdjust="spacingAndGlyphs">P</tspan><tspan x="371.83" textLength="27.51" lengthAdjust="spacingAndGlyphs">r</tspan><tspan x="400.02" textLength="15.10" lengthAdjust="spacingAndGlyphs">i</tspan><tspan x="417.60" textLength="33.36" lengthAdjust="spacingAndGlyphs">c</tspan><tspan x="453.95" textLength="39.95" lengthAdjust="spacingAndGlyphs">e</tspan><tspan x="496.26" textLength="19.10" lengthAdjust="spacingAndGlyphs">(</tspan><tspan x="525.02" textLength="19.10" lengthAdjust="spacingAndGlyphs">)</tspan><tspan x="547.35" textLength="19.99" lengthAdjust="spacingAndGlyphs">:</tspan> <tspan x="591.39" textLength="15.10" lengthAdjust="spacingAndGlyphs">i</tspan><tspan x="609.43" textLength="39.87" lengthAdjust="spacingAndGlyphs">n</tspan><tspan x="651.63" textLength="22.95" lengthAdjust="spacingAndGlyphs">t</tspan></text><text y="1164.87" font-size="68.84"><tspan x="223.46" textLength="40.20" lengthAdjust="spacingAndGlyphs">g</tspan><tspan x="265.65" textLength="39.95" lengthAdjust="spacingAndGlyphs">e</tspan><tspan x="307.29" textLength="22.95" lengthAdjust="spacingAndGlyphs">t</tspan><tspan x="333.24" textLength="43.09" lengthAdjust="spacingAndGlyphs">B</tspan><tspan x="378.63" textLength="39.87" lengthAdjust="spacingAndGlyphs">u</tspan><tspan x="421.50" textLength="15.10" lengthAdjust="spacingAndGlyphs">i</tspan><tspan x="439.95" textLength="15.10" lengthAdjust="spacingAndGlyphs">l</tspan><tspan x="457.37" textLength="40.20" lengthAdjust="spacingAndGlyphs">d</tspan><tspan x="499.57" textLength="39.95" lengthAdjust="spacingAndGlyphs">e</tspan><tspan x="540.74" textLength="27.51" lengthAdjust="spacingAndGlyphs">r</tspan><tspan x="569.21" textLength="19.10" lengthAdjust="spacingAndGlyphs">(</tspan><tspan x="597.99" textLength="19.10" lengthAdjust="spacingAndGlyphs">)</tspan><tspan x="620.32" textLength="19.99" lengthAdjust="spacingAndGlyphs">:</tspan> <tspan x="664.33" textLength="39.54" lengthAdjust="spacingAndGlyphs">S</tspan><tspan x="706.18" textLength="22.95" lengthAdjust="spacingAndGlyphs">t</tspan><tspan x="731.80" textLength="27.51" lengthAdjust="spacingAndGlyphs">r</tspan><tspan x="759.99" textLength="15.10" lengthAdjust="spacingAndGlyphs">i</tspan><tspan x="778.01" textLength="39.87" lengthAdjust="spacingAndGlyphs">n</tspan><tspan x="819.52" textLength="40.20" lengthAdjust="spacingAndGlyphs">g</tspan></text><text y="1242.23" font-size="68.84"><tspan x="223.46" textLength="40.20" lengthAdjust="spacingAndGlyphs">g</tspan><tspan x="265.65" textLength="39.95" lengthAdjust="spacingAndGlyphs">e</tspan><tspan x="307.29" textLength="22.95" lengthAdjust="spacingAndGlyphs">t</tspan><tspan x="333.10" textLength="55.23" lengthAdjust="spacingAndGlyphs">M</tspan><tspan x="390.09" textLength="39.32" lengthAdjust="spacingAndGlyphs">o</tspan><tspan x="430.71" textLength="40.20" lengthAdjust="spacingAndGlyphs">d</tspan><tspan x="472.91" textLength="39.95" lengthAdjust="spacingAndGlyphs">e</tspan><tspan x="514.89" textLength="15.10" lengthAdjust="spacingAndGlyphs">l</tspan> <tspan x="554.82" textLength="19.10" lengthAdjust="spacingAndGlyphs">(</tspan><tspan x="583.60" textLength="19.10" lengthAdjust="spacingAndGlyphs">)</tspan><tspan x="605.93" textLength="19.99" lengthAdjust="spacingAndGlyphs">:</tspan> <tspan x="649.94" textLength="39.54" lengthAdjust="spacingAndGlyphs">S</tspan><tspan x="691.81" textLength="22.95" lengthAdjust="spacingAndGlyphs">t</tspan><tspan x="717.41" textLength="27.51" lengthAdjust="spacingAndGlyphs">r</tspan><tspan x="745.59" textLength="15.10" lengthAdjust="spacingAndGlyphs">i</tspan><tspan x="763.64" textLength="39.87" lengthAdjust="spacingAndGlyphs">n</tspan><tspan x="805.13" textLength="40.20" lengthAdjust="spacingAndGlyphs">g</tspan></text><text y="1319.59" font-size="68.84"><tspan x="223.46" textLength="40.20" lengthAdjust="spacingAndGlyphs">g</tspan><tspan x="265.65" textLength="39.95" lengthAdjust="spacingAndGlyphs">e</tspan><tspan x="307.29" textLength="22.95" lengthAdjust="spacingAndGlyphs">t</tspan><tspan x="333.24" textLength="43.09" lengthAdjust="spacingAndGlyphs">B</tspan><tspan x="379.09" textLength="33.26" lengthAdjust="spacingAndGlyphs">a</tspan><tspan x="419.23" textLength="33.36" lengthAdjust="spacingAndGlyphs">c</tspan><tspan x="455.98" textLength="37.18" lengthAdjust="spacingAndGlyphs">k</tspan><tspan x="495.39" textLength="61.88" lengthAdjust="spacingAndGlyphs">W</tspan><tspan x="556.03" textLength="39.32" lengthAdjust="spacingAndGlyphs">o</tspan><tspan x="596.70" textLength="39.32" lengthAdjust="spacingAndGlyphs">o</tspan><tspan x="637.32" textLength="40.20" lengthAdjust="spacingAndGlyphs">d</tspan> <tspan x="702.05" textLength="19.10" lengthAdjust="spacingAndGlyphs">(</tspan><tspan x="730.82" textLength="19.10" lengthAdjust="spacingAndGlyphs">)</tspan><tspan x="753.16" textLength="19.99" lengthAdjust="spacingAndGlyphs">:</tspan> <tspan x="797.16" textLength="39.54" lengthAdjust="spacingAndGlyphs">S</tspan><tspan x="839.02" textLength="22.95" lengthAdjust="spacingAndGlyphs">t</tspan><tspan x="864.64" textLength="27.51" lengthAdjust="spacingAndGlyphs">r</tspan><tspan x="892.81" textLength="15.10" lengthAdjust="spacingAndGlyphs">i</tspan><tspan x="910.86" textLength="39.87" lengthAdjust="spacingAndGlyphs">n</tspan><tspan x="952.35" textLength="40.20" lengthAdjust="spacingAndGlyphs">g</tspan></text><text y="1396.95" font-size="68.84"><tspan x="223.46" textLength="40.20" lengthAdjust="spacingAndGlyphs">g</tspan><tspan x="265.65" textLength="39.95" lengthAdjust="spacingAndGlyphs">e</tspan><tspan x="307.29" textLength="22.95" lengthAdjust="spacingAndGlyphs">t</tspan><tspan x="330.19" textLength="44.30" lengthAdjust="spacingAndGlyphs">T</tspan><tspan x="362.04" textLength="39.32" lengthAdjust="spacingAndGlyphs">o</tspan><tspan x="403.41" textLength="40.24" lengthAdjust="spacingAndGlyphs">p</tspan><tspan x="446.15" textLength="61.88" lengthAdjust="spacingAndGlyphs">W</tspan><tspan x="506.79" textLength="39.32" lengthAdjust="spacingAndGlyphs">o</tspan><tspan x="547.48" textLength="39.32" lengthAdjust="spacingAndGlyphs">o</tspan><tspan x="588.10" textLength="40.20" lengthAdjust="spacingAndGlyphs">d</tspan> <tspan x="652.82" textLength="19.10" lengthAdjust="spacingAndGlyphs">(</tspan><tspan x="681.60" textLength="19.10" lengthAdjust="spacingAndGlyphs">)</tspan><tspan x="703.93" textLength="19.99" lengthAdjust="spacingAndGlyphs">:</tspan> <tspan x="747.94" textLength="39.54" lengthAdjust="spacingAndGlyphs">S</tspan><tspan x="789.79" textLength="22.95" lengthAdjust="spacingAndGlyphs">t</tspan><tspan x="815.41" textLength="27.51" lengthAdjust="spacingAndGlyphs">r</tspan><tspan x="843.59" textLength="15.10" lengthAdjust="spacingAndGlyphs">i</tspan><tspan x="861.62" textLength="39.87" lengthAdjust="spacingAndGlyphs">n</tspan><tspan x="903.13" textLength="40.20" lengthAdjust="spacingAndGlyphs">g</tspan></text></svg><div class="d" style="top:189.80px"></div><div class="d" style="top:216.72px"></div><div class="d" style="top:243.64px"></div><div class="d" style="top:270.56px"></div><div class="d" style="top:297.48px"></div><div class="d" style="top:324.40px"></div><div class="d" style="top:382.00px"></div><div class="d" style="top:412.10px"></div><div class="d" style="top:1428.90px"></div><div class="d" style="top:1457.90px"></div><div class="d" style="top:1516.40px"></div><div class="r" style="left:171.20px;top:579.86px;width:5.80px;height:43.50px"></div><div class="r" style="left:152.60px;top:598.96px;width:43.50px;height:5.70px"></div><div class="r" style="left:171.20px;top:657.22px;width:5.80px;height:43.50px"></div><div class="r" style="left:152.60px;top:676.32px;width:43.50px;height:5.70px"></div><div class="r" style="left:171.20px;top:734.58px;width:5.80px;height:43.50px"></div><div class="r" style="left:152.60px;top:753.68px;width:43.50px;height:5.70px"></div><div class="r" style="left:171.20px;top:811.94px;width:5.80px;height:43.50px"></div><div class="r" style="left:152.60px;top:831.04px;width:43.50px;height:5.70px"></div><div class="r" style="left:171.20px;top:889.30px;width:5.80px;height:43.50px"></div><div class="r" style="left:152.60px;top:908.40px;width:43.50px;height:5.70px"></div><div class="r" style="left:171.20px;top:1044.02px;width:5.80px;height:43.50px"></div><div class="r" style="left:152.60px;top:1063.12px;width:43.50px;height:5.70px"></div><div class="r" style="left:171.20px;top:1121.38px;width:5.80px;height:43.50px"></div><div class="r" style="left:152.60px;top:1140.48px;width:43.50px;height:5.70px"></div><div class="r" style="left:171.20px;top:1198.74px;width:5.80px;height:43.50px"></div><div class="r" style="left:152.60px;top:1217.84px;width:43.50px;height:5.70px"></div><div class="r" style="left:171.20px;top:1276.10px;width:5.80px;height:43.50px"></div><div class="r" style="left:152.60px;top:1295.20px;width:43.50px;height:5.70px"></div><div class="r" style="left:171.20px;top:1353.46px;width:5.80px;height:43.50px"></div><div class="r" style="left:152.60px;top:1372.56px;width:43.50px;height:5.70px"></div>
</body></html>
